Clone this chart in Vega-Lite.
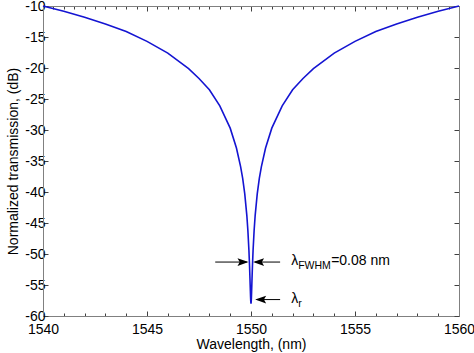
{
  "$schema": "https://vega.github.io/schema/vega-lite/v6.json",
  "width": 416,
  "height": 310,
  "autosize": {"type": "none"},
  "padding": {"left": 43, "top": 6, "right": 15, "bottom": 37},
  "background": "white",
  "config": {
    "view": {"stroke": null},
    "font": "Liberation Sans",
    "axis": {
      "labelFont": "Liberation Sans",
      "titleFont": "Liberation Sans",
      "labelFontSize": 14,
      "titleFontSize": 14,
      "titleFontWeight": "normal",
      "labelColor": "black",
      "titleColor": "black",
      "domainColor": "#808080",
      "tickColor": "#404040",
      "grid": false,
      "labelFlush": false,
      "labelOverlap": false
    }
  },
  "resolve": {"axis": {"x": "independent", "y": "independent"}},
  "layer": [
    {
      "data": {"values": [
        {"x": 1540, "y": -10}, {"x": 1541, "y": -10.85}, {"x": 1542, "y": -11.8}, {"x": 1543, "y": -12.9},
        {"x": 1544, "y": -14.1}, {"x": 1545, "y": -15.7}, {"x": 1546, "y": -17.6}, {"x": 1547, "y": -20.1},
        {"x": 1547.5, "y": -21.7}, {"x": 1548, "y": -23.5}, {"x": 1548.5, "y": -26.1}, {"x": 1549, "y": -29.7},
        {"x": 1549.3, "y": -32.9}, {"x": 1549.5, "y": -35.9}, {"x": 1549.6, "y": -37.8}, {"x": 1549.7, "y": -40.3},
        {"x": 1549.8, "y": -43.8}, {"x": 1549.85, "y": -46.2}, {"x": 1549.9, "y": -49.4}, {"x": 1549.93, "y": -51.9},
        {"x": 1549.95, "y": -53.9}, {"x": 1549.96, "y": -55.0}, {"x": 1549.97, "y": -56.0}, {"x": 1549.98, "y": -57.0},
        {"x": 1549.99, "y": -57.7}, {"x": 1550, "y": -58.0},
        {"x": 1550.01, "y": -57.7}, {"x": 1550.02, "y": -57.0}, {"x": 1550.03, "y": -56.0}, {"x": 1550.04, "y": -55.0},
        {"x": 1550.05, "y": -53.9}, {"x": 1550.07, "y": -51.9}, {"x": 1550.1, "y": -49.4}, {"x": 1550.15, "y": -46.2},
        {"x": 1550.2, "y": -43.8}, {"x": 1550.3, "y": -40.3}, {"x": 1550.4, "y": -37.8}, {"x": 1550.5, "y": -35.9},
        {"x": 1550.7, "y": -32.9}, {"x": 1551, "y": -29.7}, {"x": 1551.5, "y": -26.1}, {"x": 1552, "y": -23.5},
        {"x": 1552.5, "y": -21.7}, {"x": 1553, "y": -20.1}, {"x": 1554, "y": -17.6}, {"x": 1555, "y": -15.7},
        {"x": 1556, "y": -14.1}, {"x": 1557, "y": -12.9}, {"x": 1558, "y": -11.8}, {"x": 1559, "y": -10.85},
        {"x": 1560, "y": -10}
      ]},
      "mark": {"type": "line", "color": "#1414d2", "strokeWidth": 1.6},
      "encoding": {
        "x": {
          "field": "x", "type": "quantitative",
          "scale": {"domain": [1540, 1560], "nice": false, "zero": false},
          "axis": {
            "orient": "bottom",
            "title": "Wavelength, (nm)",
            "values": [1540, 1540.5, 1541, 1541.5, 1542, 1542.5, 1543, 1543.5, 1544, 1544.5, 1545, 1545.5, 1546, 1546.5, 1547, 1547.5, 1548, 1548.5, 1549, 1549.5, 1550, 1550.5, 1551, 1551.5, 1552, 1552.5, 1553, 1553.5, 1554, 1554.5, 1555, 1555.5, 1556, 1556.5, 1557, 1557.5, 1558, 1558.5, 1559, 1559.5, 1560],
            "format": "d",
            "labelExpr": "datum.value % 5 === 0 ? datum.label : ''",
            "tickSize": {"condition": {"test": "datum.value % 5 === 0", "value": -5}, "value": -3},
            "labelPadding": 11,
            "titlePadding": -1
          }
        },
        "y": {
          "field": "y", "type": "quantitative",
          "scale": {"domain": [-60, -10], "nice": false, "zero": false},
          "axis": {
            "orient": "left",
            "title": "Normalized transmission, (dB)",
            "values": [-60, -55, -50, -45, -40, -35, -30, -25, -20, -15, -10],
            "labelExpr": "'' + datum.value",
            "tickSize": -5,
            "labelPadding": 3,
            "titlePadding": 4
          }
        }
      }
    },
    {
      "data": {"values": [
        {"x": 1548.28, "x2": 1549.8, "y": -51.3},
        {"x": 1551.4, "x2": 1550.2, "y": -51.3},
        {"x": 1551.4, "x2": 1550.3, "y": -57.35}
      ]},
      "mark": {"type": "rule", "color": "black", "strokeWidth": 1},
      "encoding": {
        "x": {
          "field": "x", "type": "quantitative",
          "scale": {"domain": [1540, 1560], "nice": false, "zero": false},
          "axis": {
            "orient": "top",
            "title": null,
            "labels": false,
            "values": [1540, 1540.5, 1541, 1541.5, 1542, 1542.5, 1543, 1543.5, 1544, 1544.5, 1545, 1545.5, 1546, 1546.5, 1547, 1547.5, 1548, 1548.5, 1549, 1549.5, 1550, 1550.5, 1551, 1551.5, 1552, 1552.5, 1553, 1553.5, 1554, 1554.5, 1555, 1555.5, 1556, 1556.5, 1557, 1557.5, 1558, 1558.5, 1559, 1559.5, 1560],
            "tickSize": {"condition": {"test": "datum.value % 5 === 0", "value": -5}, "value": -3}
          }
        },
        "x2": {"field": "x2"},
        "y": {
          "field": "y", "type": "quantitative",
          "scale": {"domain": [-60, -10], "nice": false, "zero": false},
          "axis": {
            "orient": "right",
            "title": null,
            "labels": false,
            "values": [-60, -55, -50, -45, -40, -35, -30, -25, -20, -15, -10],
            "tickSize": -5
          }
        }
      }
    },
    {
      "data": {"values": [
        {"x": 1549.88, "y": -51.3, "dir": "right"},
        {"x": 1550.1, "y": -51.3, "dir": "left"},
        {"x": 1550.2, "y": -57.35, "dir": "left"}
      ]},
      "mark": {"type": "point", "filled": true, "color": "black", "size": 121, "opacity": 1, "strokeWidth": 0},
      "encoding": {
        "x": {"field": "x", "type": "quantitative", "axis": null},
        "y": {"field": "y", "type": "quantitative", "axis": null},
        "shape": {
          "field": "dir", "type": "nominal", "legend": null,
          "scale": {"domain": ["left", "right"], "range": ["M0,0L2,-0.7L1.6,0L2,0.7Z", "M0,0L-2,-0.7L-1.6,0L-2,0.7Z"]}
        }
      }
    },
    {
      "data": {"values": [
        {"x": 1551.93, "y": -51.2, "t": "λ"},
        {"x": 1551.93, "y": -57.2, "t": "λ"}
      ]},
      "mark": {"type": "text", "font": "Liberation Sans", "fontSize": 14, "color": "black", "align": "left", "baseline": "middle"},
      "encoding": {
        "x": {"field": "x", "type": "quantitative", "axis": null},
        "y": {"field": "y", "type": "quantitative", "axis": null},
        "text": {"field": "t"}
      }
    },
    {
      "data": {"values": [
        {"x": 1551.93, "y": -51.2, "t": "FWHM"},
        {"x": 1551.93, "y": -57.2, "t": "r"}
      ]},
      "mark": {"type": "text", "font": "Liberation Sans", "fontSize": 10.5, "color": "black", "align": "left", "baseline": "middle", "dx": 7, "dy": 5},
      "encoding": {
        "x": {"field": "x", "type": "quantitative", "axis": null},
        "y": {"field": "y", "type": "quantitative", "axis": null},
        "text": {"field": "t"}
      }
    },
    {
      "data": {"values": [
        {"x": 1551.93, "y": -51.2, "t": "=0.08 nm"}
      ]},
      "mark": {"type": "text", "font": "Liberation Sans", "fontSize": 14, "color": "black", "align": "left", "baseline": "middle", "dx": 40},
      "encoding": {
        "x": {"field": "x", "type": "quantitative", "axis": null},
        "y": {"field": "y", "type": "quantitative", "axis": null},
        "text": {"field": "t"}
      }
    }
  ]
}
